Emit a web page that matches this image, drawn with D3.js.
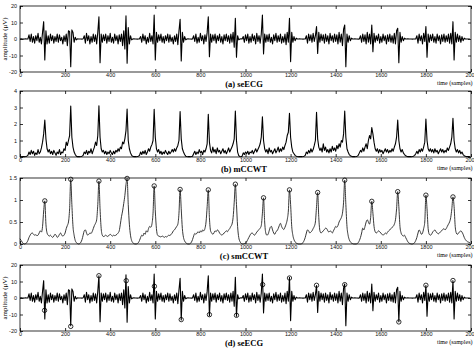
<!DOCTYPE html>
<html><head><meta charset="utf-8">
<script src="https://cdn.jsdelivr.net/npm/d3@7"></script>
<style>body{margin:0;background:#fff} svg{display:block}</style>
</head><body>
<svg id="chart" width="474" height="348"></svg>
<script>
// sample spacing of the stored values (samples)
const STEP = 5;

// (a)/(d) seECG, one value every 5 samples, 0..1995
const seECG = [
 0, 0.1, 0, -0.1, 0, 0.1, 0, 0, 2.5, -1.5,
 3, -2, 1.5, -2.5, 2, -1, 3.5, -2, 1, -3,
 4, 10.5, -12.7, 5, -3, 2, -2.5, 3, -1, 2,
 -2.5, 1.5, -1.5, 3, -2, 2.5, -1, 1, -3, 2,
 -1.5, 3, -4, 5, 4.5, -16.8, 5.5, 4, -2, 1,
 -0.5, 0.1, 0, 0, 0, -0.1, 0.1, 2, -2.5, 3.5,
 -1, 2, -3, 1.5, -2, 3, -1.5, 2.5, -3, 4,
 13.5, -14.4, 3, -2, 2.5, -1, 3, -2.5, 2, -1.5,
 3.5, -2, 1, -2.5, 3, -1, 2, -3, 2.5, -1.5,
 3, -4, 5, -6, 14, -14.7, 7, -3, 2, -0.5,
 0, 0.1, 0, 0, -0.1, 0, 0.1, 1.5, -2, 3,
 -1, 2, -3, 1, -2, 3.5, -1.5, 2, -3, 14.5,
 -12.7, 4, -2, 2.5, -1, 3, -2, 1.5, -2.5, 2,
 -1, 3, -2, 2.5, -1.5, 1, -3, 2, -1.5, 3,
 -3.5, 5, 12, -13.3, 4, -2, 1.5, -0.5, 0, 0.1,
 0, 0, -0.1, 0, 2, -1.5, 3, -2.5, 1, -2,
 3.5, -1, 2, -3, 2.5, -1.5, 4, 13.5, -10.7, 3,
 -2, 2.5, -1, 3, -2.5, 2, -1, 3, -2, 1.5,
 -3, 2.5, -1, 3, -1.5, 2, -2.5, 3, -2, 4,
 -5, 12.5, -11, 2, -0.5, 0, 0.1, 0, 1.5, -2,
 2.5, -1, 3, -2.5, 1.5, -2, 3, -1, 2, -3,
 3.5, -1.5, 2, -2.5, 3, 14.5, -9, 3, -2, 2.5,
 -1.5, 3, -2, 1, -3, 2.5, -1, 3.5, -2, 2,
 -1.5, 3, -2.5, 1.5, -2, 3, -3.5, 4, -2, 12.5,
 -13.7, 4, -2, 1.5, -1, 0.5, 0, 0, 0.1, 0,
 0, -0.1, 0, 0, 2, -2.5, 3, -1, 2.5, -2,
 3.5, -1.5, 2, 7.5, -8.7, 4, -2, 3, -1, 2.5,
 -2.5, 3, -1.5, 2, -3, 3.5, -1, 2, -2, 3,
 -1.5, 2.5, -3, 4, -2, 3, -4, 6, 8.5, -16.8,
 3, -2, 2, -1, 0.5, 0, 0, 0.1, 0, 0,
 -0.1, 0, 2, -2, 3, -1.5, 2.5, -3, 4, -2,
 3, -3, 8.5, -7.7, 3.5, -2, 2, -1, 3, -2.5,
 1.5, -2, 3, -1, 2, -3, 2.5, -1.5, 3, -2,
 2, -2.5, 3.5, -3, 5, 6.5, -14.4, 4, -2, 1.5,
 -1, 0.5, 0, 0, 0.1, 0, 0, 0, -0.1, 0,
 0, 0, 2, -2.5, 3, -1, 2, -3, 3.5, -1.5,
 7.5, -11, 3, -2, 2.5, -1, 3, -2, 1.5, -2.5,
 3, -1, 2, -3, 2.5, -1.5, 3, -2, 2, -1.5,
 3, -2.5, 3.5, -3, 10.5, -12.7, 4, -2, 3, -1.5,
 2, -2, 1.5, -1, 0.5, 0, 0, 0, 0, 0
];

// (b) mCCWT
const mCCWT = [
 0.05, 0.03, 0.02, 0.02, 0.02, 0.03, 0.05, 0.1, 0.3, 0.15,
 0.4, 0.2, 0.35, 0.1, 0.25, 0.15, 0.45, 0.2, 0.3, 0.55,
 0.9, 1.4, 2.24, 1.1, 0.5, 0.3, 0.45, 0.2, 0.35, 0.15,
 0.4, 0.25, 0.1, 0.3, 0.2, 0.45, 0.15, 0.3, 0.25, 0.5,
 0.4, 0.9, 0.7, 1.0, 1.3, 3.09, 1.2, 0.6, 0.3, 0.15,
 0.05, 0.02, 0.02, 0.02, 0.03, 0.05, 0.1, 0.3, 0.2, 0.4,
 0.15, 0.35, 0.25, 0.5, 0.2, 0.4, 0.6, 0.9, 0.7, 1.3,
 3.1, 1.2, 0.5, 0.3, 0.4, 0.2, 0.35, 0.15, 0.3, 0.2,
 0.4, 0.25, 0.15, 0.35, 0.2, 0.4, 0.3, 0.5, 0.35, 0.6,
 0.5, 0.9, 0.8, 1.1, 1.6, 2.9, 1.0, 0.5, 0.25, 0.1,
 0.04, 0.02, 0.02, 0.02, 0.03, 0.05, 0.1, 0.3, 0.15, 0.35,
 0.2, 0.4, 0.15, 0.3, 0.5, 0.35, 0.6, 0.75, 1.0, 2.89,
 1.2, 0.5, 0.3, 0.45, 0.2, 0.35, 0.15, 0.3, 0.2, 0.4,
 0.25, 0.15, 0.35, 0.2, 0.3, 0.45, 0.3, 0.5, 0.35, 0.55,
 0.7, 1.0, 2.75, 1.1, 0.5, 0.3, 0.15, 0.05, 0.03, 0.02,
 0.02, 0.02, 0.03, 0.05, 0.2, 0.35, 0.15, 0.3, 0.2, 0.45,
 0.25, 0.35, 0.15, 0.4, 0.3, 0.5, 0.8, 2.59, 0.9, 0.4,
 0.25, 0.6, 0.3, 0.45, 0.2, 0.55, 0.3, 0.4, 0.2, 0.35,
 0.5, 0.25, 0.4, 0.2, 0.35, 0.55, 0.3, 0.45, 0.6, 0.8,
 1.1, 2.79, 1.0, 0.3, 0.08, 0.03, 0.02, 0.05, 0.25, 0.15,
 0.3, 0.2, 0.35, 0.15, 0.3, 0.25, 0.4, 0.2, 0.35, 0.5,
 0.3, 0.45, 0.6, 0.8, 1.2, 2.44, 1.0, 0.5, 0.3, 0.45,
 0.2, 0.55, 0.3, 0.4, 0.2, 0.35, 0.5, 0.25, 0.4, 0.6,
 0.3, 0.5, 0.35, 0.6, 0.45, 0.7, 0.9, 1.3, 1.5, 2.65,
 1.2, 0.6, 0.3, 0.2, 0.1, 0.05, 0.03, 0.02, 0.02, 0.02,
 0.02, 0.03, 0.05, 0.1, 0.3, 0.2, 0.4, 0.25, 0.5, 0.3,
 0.45, 0.7, 1.0, 2.71, 1.1, 0.6, 0.4, 0.55, 0.3, 0.8,
 0.4, 0.6, 0.3, 0.45, 0.25, 0.5, 0.3, 0.65, 0.4, 0.55,
 0.35, 0.7, 0.5, 0.8, 0.6, 1.0, 0.9, 1.4, 2.79, 1.2,
 0.5, 0.3, 0.15, 0.08, 0.04, 0.02, 0.02, 0.02, 0.03, 0.05,
 0.1, 0.25, 0.4, 0.3, 0.55, 0.35, 0.6, 0.8, 0.5, 1.0,
 1.3, 1.1, 1.78, 1.4, 0.9, 0.5, 0.35, 0.5, 0.25, 0.45,
 0.3, 0.4, 0.2, 0.35, 0.5, 0.3, 0.45, 0.25, 0.4, 0.3,
 0.5, 0.35, 0.6, 0.8, 1.2, 2.24, 1.0, 0.5, 0.3, 0.45,
 0.25, 0.15, 0.08, 0.04, 0.02, 0.02, 0.02, 0.02, 0.03, 0.05,
 0.1, 0.2, 0.35, 0.2, 0.45, 0.3, 0.5, 0.35, 0.6, 0.9,
 2.3, 1.0, 0.5, 0.35, 0.5, 0.3, 0.45, 0.25, 0.5, 0.3,
 0.4, 0.2, 0.35, 0.5, 0.3, 0.45, 0.25, 0.4, 0.3, 0.55,
 0.4, 0.6, 0.8, 1.2, 2.34, 1.0, 0.5, 0.3, 0.45, 0.25,
 0.4, 0.2, 0.3, 0.15, 0.08, 0.04, 0.02, 0.02, 0.02, 0.02
];

// (c) smCCWT
const smCCWT = [
 0.12, 0.08, 0.04, 0.01, 0, 0.01, 0.03, 0.08, 0.15, 0.2,
 0.24, 0.25, 0.22, 0.2, 0.21, 0.19, 0.2, 0.25, 0.3, 0.27,
 0.4, 0.75, 0.98, 0.45, 0.25, 0.2, 0.18, 0.2, 0.17, 0.15,
 0.18, 0.22, 0.2, 0.15, 0.17, 0.22, 0.25, 0.2, 0.18, 0.2,
 0.25, 0.35, 0.42, 0.5, 0.8, 1.47, 0.9, 0.4, 0.2, 0.08,
 0.03, 0.01, 0, 0.01, 0.04, 0.1, 0.2, 0.3, 0.32, 0.25,
 0.2, 0.22, 0.25, 0.24, 0.28, 0.35, 0.42, 0.47, 0.55, 0.9,
 1.43, 0.8, 0.35, 0.2, 0.17, 0.18, 0.2, 0.18, 0.17, 0.2,
 0.22, 0.2, 0.18, 0.2, 0.19, 0.2, 0.22, 0.25, 0.3, 0.45,
 0.62, 0.75, 0.92, 1.1, 1.35, 1.49, 0.9, 0.45, 0.2, 0.08,
 0.03, 0.01, 0, 0, 0.01, 0.03, 0.08, 0.15, 0.2, 0.18,
 0.25, 0.22, 0.3, 0.27, 0.35, 0.4, 0.38, 0.45, 0.7, 1.32,
 0.75, 0.35, 0.2, 0.18, 0.17, 0.16, 0.18, 0.17, 0.15, 0.17,
 0.16, 0.18, 0.2, 0.19, 0.22, 0.25, 0.3, 0.32, 0.36, 0.4,
 0.45, 0.7, 1.24, 0.8, 0.35, 0.15, 0.07, 0.03, 0.01, 0,
 0, 0.01, 0.04, 0.1, 0.18, 0.24, 0.22, 0.25, 0.28, 0.25,
 0.3, 0.27, 0.32, 0.3, 0.35, 0.5, 0.85, 1.23, 0.6, 0.3,
 0.25, 0.22, 0.25, 0.3, 0.28, 0.32, 0.3, 0.25, 0.22, 0.2,
 0.22, 0.25, 0.27, 0.3, 0.28, 0.32, 0.35, 0.4, 0.45, 0.6,
 0.95, 1.36, 0.9, 0.4, 0.15, 0.06, 0.02, 0, 0, 0.01,
 0.02, 0.05, 0.1, 0.15, 0.2, 0.24, 0.25, 0.22, 0.2, 0.23,
 0.27, 0.3, 0.33, 0.36, 0.42, 0.7, 1.05, 0.5, 0.25, 0.2,
 0.22, 0.3, 0.38, 0.4, 0.32, 0.25, 0.22, 0.28, 0.3, 0.35,
 0.42, 0.47, 0.4, 0.35, 0.33, 0.38, 0.45, 0.55, 0.75, 1.23,
 0.9, 0.4, 0.2, 0.1, 0.05, 0.02, 0.01, 0, 0, 0,
 0.01, 0.03, 0.08, 0.15, 0.25, 0.32, 0.3, 0.25, 0.27, 0.3,
 0.35, 0.4, 0.5, 0.85, 1.17, 0.6, 0.3, 0.25, 0.27, 0.3,
 0.33, 0.36, 0.35, 0.3, 0.27, 0.3, 0.28, 0.25, 0.3, 0.35,
 0.4, 0.38, 0.42, 0.5, 0.55, 0.6, 0.7, 0.95, 1.45, 0.9,
 0.4, 0.2, 0.1, 0.05, 0.02, 0.01, 0, 0, 0, 0.01,
 0.03, 0.08, 0.15, 0.25, 0.36, 0.32, 0.4, 0.5, 0.55, 0.5,
 0.45, 0.6, 0.97, 0.7, 0.4, 0.28, 0.25, 0.27, 0.3, 0.28,
 0.25, 0.22, 0.2, 0.22, 0.25, 0.23, 0.27, 0.3, 0.32, 0.35,
 0.38, 0.4, 0.45, 0.55, 0.8, 1.19, 0.85, 0.4, 0.25, 0.2,
 0.18, 0.2, 0.15, 0.1, 0.05, 0.02, 0.01, 0, 0, 0.01,
 0.03, 0.08, 0.15, 0.25, 0.32, 0.28, 0.22, 0.25, 0.35, 0.5,
 1.11, 0.8, 0.35, 0.22, 0.2, 0.22, 0.27, 0.3, 0.32, 0.28,
 0.25, 0.23, 0.25, 0.28, 0.3, 0.33, 0.35, 0.32, 0.35, 0.4,
 0.45, 0.5, 0.6, 0.8, 1.07, 0.85, 0.4, 0.25, 0.22, 0.25,
 0.28, 0.3, 0.27, 0.22, 0.15, 0.1, 0.07, 0.05, 0.04, 0.03
];

// detected peaks (circles)
const cPeakSamples = [110, 225, 350, 475, 595, 710, 835, 955, 1080, 1195, 1320, 1440, 1560, 1675, 1800, 1920];
const cPeakValues  = [0.98, 1.47, 1.43, 1.49, 1.32, 1.24, 1.23, 1.36, 1.05, 1.23, 1.17, 1.45, 0.97, 1.19, 1.11, 1.07];
const dPeakSamples = [109, 225, 350, 471, 596, 715, 840, 960, 1076, 1195, 1315, 1440, 1680, 1800, 1920];
const dPeakValues  = [-7.5, -17.2, 13.5, 10.5, 7.1, -13.1, -10.1, -10.5, 8.1, 12.1, 7.7, 8.1, -14.5, 7.7, 10.6];

// ticks and labels
const xTicks = [0, 200, 400, 600, 800, 1000, 1200, 1400, 1600, 1800, 2000];
const yTicksAmp = [-20, -10, 0, 10, 20];
const yTicksM = [0, 1, 2, 3, 4];
const yTicksS = [0, 0.5, 1, 1.5];
const captions = ["(a) seECG", "(b) mCCWT", "(c) smCCWT", "(d) seECG"];
const xLabel = "time (samples)";
const yLabel = "amplitude (\u03bcV)";

const svg = d3.select("#chart");
const x = d3.scaleLinear().domain([0, 2000]).range([20, 471]);

const panels = [
  {top: 6,   bottom: 72,  data: seECG,  dom: [-20, 20], ticks: yTicksAmp, ylab: true,  cap: captions[0], peaks: null},
  {top: 91,  bottom: 157, data: mCCWT,  dom: [0, 4],    ticks: yTicksM,   ylab: false, cap: captions[1], peaks: null},
  {top: 178, bottom: 244, data: smCCWT, dom: [0, 1.5],  ticks: yTicksS,   ylab: false, cap: captions[2], peaks: [cPeakSamples, cPeakValues], smooth: true},
  {top: 265, bottom: 331, data: seECG,  dom: [-20, 20], ticks: yTicksAmp, ylab: true,  cap: captions[3], peaks: [dPeakSamples, dPeakValues]}
];

const fmt = d => String(d);

panels.forEach(p => {
  const y = d3.scaleLinear().domain(p.dom).range([p.bottom, p.top]);
  const g = svg.append("g");

  // signal
  const line = d3.line().x((d, i) => x(i * STEP)).y(d => y(d));
  if (p.smooth) line.curve(d3.curveMonotoneX);
  g.append("path").datum(p.data).attr("d", line)
    .attr("fill", "none").attr("stroke", p.smooth ? "#222" : "#000")
    .attr("stroke-width", p.smooth ? 0.9 : 1.1).attr("stroke-linejoin", "round");

  if (p.peaks) {
    g.selectAll("circle.pk").data(p.peaks[0]).enter().append("circle")
      .attr("cx", d => x(d)).attr("cy", (d, i) => y(p.peaks[1][i]))
      .attr("r", 2.2).attr("fill", "none").attr("stroke", "#000").attr("stroke-width", 0.8);
  }

  // axes with inward ticks on all four sides
  const axB = d3.axisBottom(x).tickValues(xTicks).tickFormat(fmt).tickSizeInner(-3).tickSizeOuter(0).tickPadding(1.5);
  const axT = d3.axisTop(x).tickValues(xTicks).tickFormat("").tickSizeInner(-3).tickSizeOuter(0);
  const axL = d3.axisLeft(y).tickValues(p.ticks).tickFormat(fmt).tickSizeInner(-3).tickSizeOuter(0).tickPadding(3);
  const axR = d3.axisRight(y).tickValues(p.ticks).tickFormat("").tickSizeInner(-3).tickSizeOuter(0);

  const styleAxis = sel => {
    sel.select(".domain").remove();
    sel.selectAll(".tick line").attr("stroke", "#000").attr("stroke-width", 0.8);
    sel.selectAll(".tick text").attr("font-family", "Liberation Sans, Arial, sans-serif")
      .attr("font-size", 5.5).attr("fill", "#111");
  };
  g.append("g").attr("transform", `translate(0,${p.bottom})`).call(axB).call(styleAxis);
  g.append("g").attr("transform", `translate(0,${p.top})`).call(axT).call(styleAxis);
  g.append("g").attr("transform", `translate(${x.range()[0]},0)`).call(axL).call(styleAxis);
  g.append("g").attr("transform", `translate(${x.range()[1]},0)`).call(axR).call(styleAxis);

  // frame
  g.append("rect").attr("x", x.range()[0]).attr("y", p.top)
    .attr("width", x.range()[1] - x.range()[0]).attr("height", p.bottom - p.top)
    .attr("fill", "none").attr("stroke", "#000").attr("stroke-width", 0.8);

  // caption
  g.append("text").attr("x", 244).attr("y", p.bottom + 14.5).attr("text-anchor", "middle")
    .attr("font-family", "Liberation Serif, Times New Roman, serif").attr("font-weight", "bold")
    .attr("font-size", 8.5).text(p.cap);

  // x label (below the tick labels, running to the right edge)
  g.append("text").attr("x", 437).attr("y", p.bottom + 12.5)
    .attr("font-family", "Liberation Serif, Times New Roman, serif")
    .attr("font-size", 6).text(xLabel);

  if (p.ylab) {
    const cy = (p.top + p.bottom) / 2;
    g.append("text").attr("transform", `translate(7,${cy}) rotate(-90)`).attr("text-anchor", "middle")
      .attr("font-family", "Liberation Serif, Times New Roman, serif")
      .attr("font-size", 7).text(yLabel);
  }
});
</script>
</body></html>
